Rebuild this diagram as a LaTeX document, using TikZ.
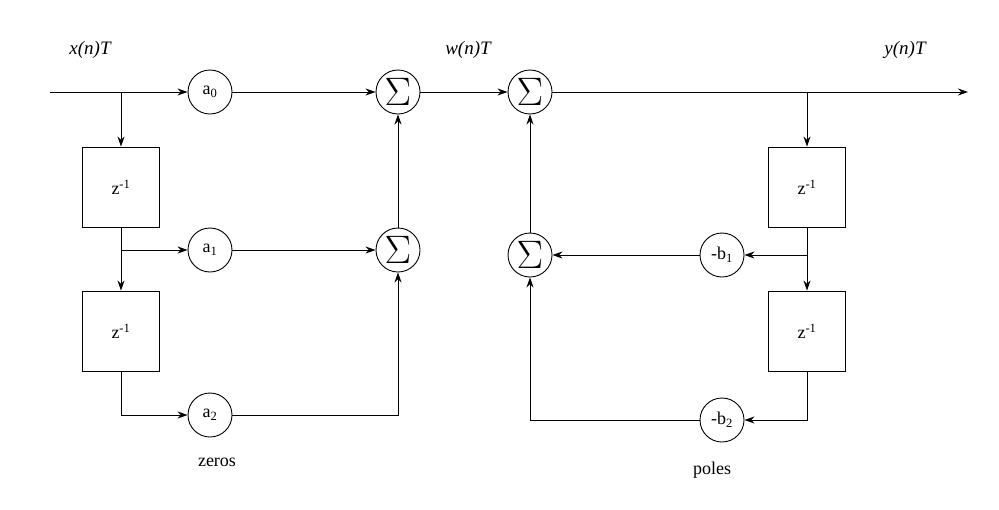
\documentclass[tikz,border=0pt]{standalone}
\usepackage{fontspec}
\usepackage{graphicx}
\setmainfont{Liberation Serif}
\usetikzlibrary{arrows.meta}
\newcommand{\mysig}{\scalebox{2.3}{$\Sigma$}}
\begin{document}
\begin{tikzpicture}[x=1pt,y=-1pt,
  every node/.style={font=\fontsize{18}{21}\selectfont},
  circ/.style={draw,circle,minimum size=44pt,inner sep=0pt,line width=0.9pt},
  box/.style={draw,minimum width=77pt,minimum height=80pt,line width=0.9pt},
  lbl/.style={font=\fontsize{19}{22}\selectfont\itshape},
  >={Stealth[length=10pt,width=7pt]}, line width=0.9pt]
\useasboundingbox (0,0) rectangle (999,509);
\node[circ] (a0) at (210,92) {a\textsubscript{0}};
\node[circ] (a1) at (210,250) {a\textsubscript{1}};
\node[circ] (a2) at (210,415) {a\textsubscript{2}};
\node[box] (z1) at (121,187) {z\textsuperscript{-1}};
\node[box] (z2) at (121,331) {z\textsuperscript{-1}};
\node[circ] (s1) at (398,92) {\mysig};
\node[circ] (s2) at (398,250) {\mysig};
\node[circ] (s3) at (530,92) {\mysig};
\node[circ] (s4) at (530,255) {\mysig};
\node[box] (z3) at (807,187) {z\textsuperscript{-1}};
\node[box] (z4) at (807,331) {z\textsuperscript{-1}};
\node[circ] (b1) at (722,255) {-b\textsubscript{1}};
\node[circ] (b2) at (722,420) {-b\textsubscript{2}};
\coordinate (in) at (50,92);
\coordinate (out) at (968,92);
\node[lbl] (lx) at (90,50) {x(n)T};
\node[lbl] (lw) at (468,50) {w(n)T};
\node[lbl] (ly) at (905,50) {y(n)T};
\node (zeros) at (217,462) {zeros};
\node (poles) at (712,470) {poles};
\draw[->] (in) -- (a0);
\draw[->] (121,92) -- (z1.north);
\draw[->] (z1.south) -- (z2.north);
\draw[->] (121,250) -- (a1);
\draw[->] (z2.south) |- (a2);
\draw[->] (a0) -- (s1);
\draw[->] (a1) -- (s2);
\draw[->] (a2) -| (s2.south);
\draw[->] (s2) -- (s1);
\draw[->] (s1) -- (s3);
\draw[->] (s3) -- (out);
\draw[->] (807,92) -- (z3.north);
\draw[->] (z3.south) -- (z4.north);
\draw[->] (807,255) -- (b1);
\draw[->] (z4.south) |- (b2);
\draw[->] (b1) -- (s4);
\draw[->] (b2) -| (s4.south);
\draw[->] (s4) -- (s3);
\end{tikzpicture}
\end{document}
